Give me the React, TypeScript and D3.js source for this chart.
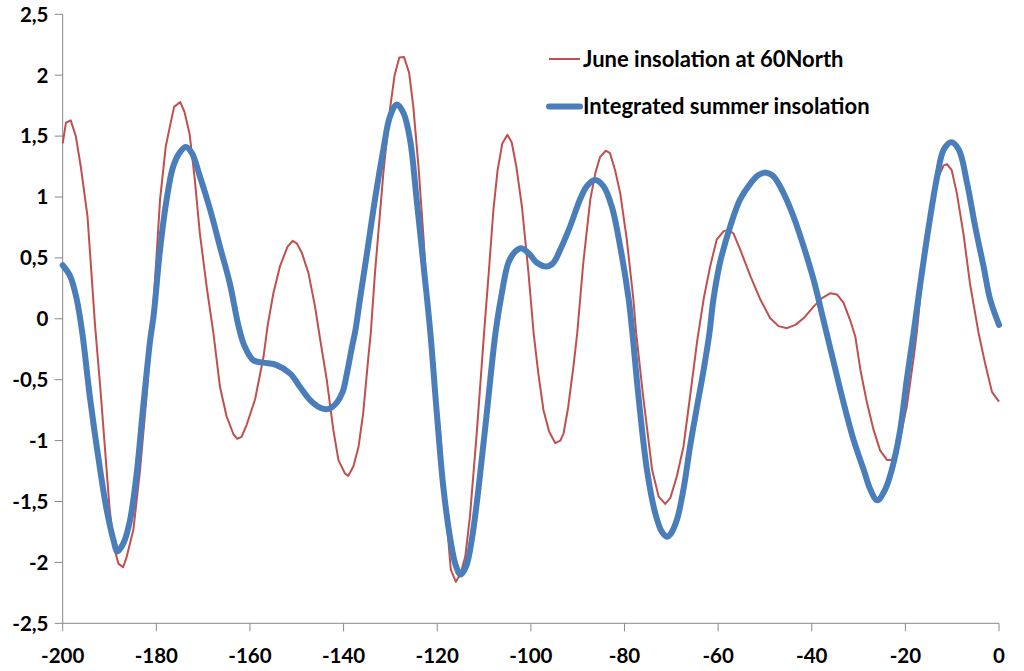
import React from "react";
import * as d3 from "d3";

// June insolation at 60North (thin red line)
const juneX = [-200,-199.3,-198.3,-197.2,-196.1,-194.7,-193.1,-192,-191,-190,-189,-188.1,-187.1,-186.3,-184.9,-183.5,-182,-180.8,-179.2,-178,-177.1,-176.2,-174.9,-174,-172.9,-171.8,-170.7,-169.2,-167.8,-166.4,-165,-163.5,-162.7,-161.8,-160.7,-158.9,-157.1,-156.2,-155,-153.6,-152,-150.9,-150,-148.9,-147.5,-146.1,-145,-143.6,-142.2,-141.1,-139.7,-139,-137.9,-136.8,-135.8,-134.7,-134.2,-133.3,-131.5,-130.1,-129.1,-128.1,-127.1,-126,-125.1,-124,-122.9,-121.7,-120.5,-119.4,-118.3,-117.1,-116,-115,-114,-113,-111.5,-110,-109,-108,-107.1,-106.1,-105,-104.1,-103.1,-101.9,-100.5,-99.4,-98.4,-97.3,-96.1,-94.8,-93.7,-93,-92,-90.9,-90.1,-88.8,-87.3,-86.2,-85.2,-84,-83.1,-82,-80.9,-79.5,-78.1,-77.5,-76,-74.1,-72.7,-71.3,-70.2,-68.8,-67.4,-66,-64.5,-63.1,-61.7,-60.3,-58.8,-57.8,-56.7,-55.3,-53.1,-51,-48.9,-47.1,-45.3,-43.5,-41.7,-39.6,-37.8,-36,-34.6,-33.2,-31.8,-30.7,-29.6,-28.2,-26.8,-25.4,-23.9,-22.9,-21.1,-19.7,-18.2,-17.5,-16.1,-14.3,-12.9,-11.8,-11.1,-10.1,-9,-7.6,-6.2,-4.4,-3,-1.5,0];
const juneY = [1.44,1.61,1.63,1.5,1.24,0.84,-0.05,-0.55,-1.05,-1.55,-1.88,-2.01,-2.04,-1.95,-1.73,-1.25,-0.6,0,0.98,1.41,1.58,1.74,1.78,1.7,1.52,1.15,0.7,0.25,-0.12,-0.56,-0.8,-0.95,-0.985,-0.97,-0.87,-0.66,-0.31,-0.05,0.21,0.43,0.59,0.64,0.62,0.54,0.375,0.1,-0.17,-0.5,-0.91,-1.16,-1.27,-1.29,-1.21,-1.05,-0.77,-0.31,-0.12,0.375,1.2,1.72,2.0,2.145,2.15,2.02,1.74,1.25,0.65,-0.1,-0.55,-0.91,-1.51,-2.06,-2.16,-2.09,-1.95,-1.62,-0.91,-0.12,0.375,0.895,1.22,1.44,1.51,1.45,1.25,0.92,0.375,-0.12,-0.45,-0.75,-0.925,-1.02,-1.0,-0.94,-0.72,-0.39,-0.12,0.46,0.98,1.2,1.33,1.38,1.36,1.22,1.03,0.65,0.16,-0.12,-0.64,-1.24,-1.46,-1.52,-1.47,-1.29,-1.05,-0.64,-0.19,0.16,0.43,0.65,0.72,0.73,0.7,0.57,0.35,0.16,0.006,-0.06,-0.077,-0.05,0.006,0.1,0.17,0.21,0.2,0.13,-0.01,-0.145,-0.42,-0.69,-0.91,-1.08,-1.16,-1.16,-0.97,-0.72,-0.31,-0.09,0.46,0.92,1.17,1.26,1.27,1.22,1.03,0.7,0.29,-0.11,-0.36,-0.6,-0.68];

// Integrated summer insolation (thick blue line)
const intX = [-200,-198.4,-197,-195.8,-194.2,-192,-190.6,-189.2,-188.3,-187,-185.6,-184.2,-182.8,-181.3,-180.6,-179.2,-177.8,-176.4,-174.9,-173.7,-172.4,-170.7,-168.5,-166.4,-164.3,-162.5,-161.2,-159.3,-157.1,-154.3,-151.4,-149.3,-147.2,-145,-143.2,-141.5,-140.2,-139.3,-138.2,-137.5,-136.5,-135,-133.3,-131.5,-130.1,-128.6,-127.2,-125.8,-124.4,-122.9,-121.5,-120.1,-118.7,-117.2,-116,-115,-113.8,-112.6,-111.2,-109.4,-107.5,-106.2,-104.8,-103.4,-102.1,-100.5,-98.7,-96.7,-95.2,-93.7,-91.6,-89.5,-88,-86.3,-84.5,-82.7,-80.9,-79.1,-78.3,-77,-75.2,-73.4,-72,-70.9,-70.2,-68.8,-67.4,-66,-64.5,-63.1,-61.9,-61,-59.6,-57.4,-55.3,-53.1,-51.4,-49.8,-48.2,-46,-43.9,-41.7,-39.6,-37.5,-35.3,-33.2,-31.1,-28.9,-27.5,-26,-24.3,-22.9,-21.1,-19.7,-18.3,-16.8,-15,-13.2,-11.8,-10.2,-8.6,-6.8,-5.1,-3.3,-1.9,0];
const intY = [0.44,0.35,0.16,-0.12,-0.64,-1.24,-1.57,-1.81,-1.91,-1.84,-1.65,-1.27,-0.72,-0.17,0.02,0.57,0.98,1.25,1.37,1.41,1.36,1.17,0.895,0.59,0.29,-0.05,-0.22,-0.34,-0.36,-0.38,-0.45,-0.56,-0.665,-0.73,-0.74,-0.69,-0.6,-0.45,-0.23,-0.1,0.16,0.54,0.98,1.39,1.66,1.76,1.69,1.47,0.98,0.43,-0.1,-0.77,-1.38,-1.81,-2.03,-2.1,-2.03,-1.81,-1.4,-0.77,-0.1,0.21,0.46,0.55,0.58,0.54,0.46,0.43,0.46,0.57,0.76,0.98,1.09,1.14,1.09,0.92,0.59,0.16,-0.12,-0.64,-1.24,-1.6,-1.75,-1.79,-1.77,-1.65,-1.4,-1.05,-0.72,-0.42,-0.13,0.16,0.46,0.76,0.98,1.11,1.18,1.2,1.17,1.03,0.84,0.59,0.32,-0.01,-0.36,-0.69,-0.99,-1.24,-1.4,-1.49,-1.4,-1.24,-0.91,-0.5,-0.13,0.29,0.76,1.17,1.39,1.45,1.39,1.11,0.76,0.43,0.16,-0.05];

const xTicks = [-200,-180,-160,-140,-120,-100,-80,-60,-40,-20,0];
const yTicks = [-2.5,-2,-1.5,-1,-0.5,0,0.5,1,1.5,2,2.5];
const seriesNames = ["June insolation at 60North", "Integrated summer insolation"];

const W = 1024, H = 671;
const left = 62.7, right = 999, top = 14.3, bottom = 623.3;

export default function App() {
  const x = d3.scaleLinear().domain([-200, 0]).range([left, right]);
  const y = d3.scaleLinear().domain([-2.5, 2.5]).range([bottom, top]);
  const june = juneX.map((v, i) => [v, juneY[i]] as [number, number]);
  const integ = intX.map((v, i) => [v, intY[i]] as [number, number]);
  const lineLin = d3.line<[number, number]>().x(d => x(d[0])).y(d => y(d[1]));
  const lineSmooth = d3.line<[number, number]>().x(d => x(d[0])).y(d => y(d[1])).curve(d3.curveCatmullRom.alpha(0.5));
  const fmt = (d: number) => String(d).replace(".", ",");
  const axisColor = "#888888";
  const red = "#C0504D";
  const blue = "#4A7EBB";
  return (
    <svg width={W} height={H} style={{ position: "absolute", left: 0, top: 0, background: "#fff" }}
      fontFamily="Lato, 'Open Sans', sans-serif">
      <rect x={0} y={0} width={W} height={H} fill="#fff" />
      {/* axes */}
      <line x1={left} x2={left} y1={top} y2={bottom} stroke={axisColor} strokeWidth={1} />
      <line x1={left} x2={right} y1={bottom} y2={bottom} stroke={axisColor} strokeWidth={1} />
      {yTicks.map(t => (
        <g key={"y" + t}>
          <line x1={left - 8} x2={left} y1={y(t)} y2={y(t)} stroke={axisColor} strokeWidth={1} />
          <text x={48.5} y={y(t)} dy="0.36em" textAnchor="end" fontWeight={700} fontSize={20.5} fill="#000">{fmt(t)}</text>
        </g>
      ))}
      {xTicks.map(t => (
        <g key={"x" + t}>
          <line x1={x(t)} x2={x(t)} y1={bottom} y2={bottom + 8} stroke={axisColor} strokeWidth={1} />
          <text x={x(t)} y={663} textAnchor="middle" fontWeight={700} fontSize={20.5} fill="#000">{fmt(t)}</text>
        </g>
      ))}
      {/* series */}
      <path d={lineLin(june) || ""} fill="none" stroke={red} strokeWidth={2} strokeLinejoin="round" />
      <path d={lineSmooth(integ) || ""} fill="none" stroke={blue} strokeWidth={6} strokeLinejoin="round" strokeLinecap="round" />
      {/* legend */}
      <line x1={549} x2={580} y1={59} y2={59} stroke={red} strokeWidth={2} />
      <text x={583} y={59} dy="0.35em" fontSize={22} fontWeight={700} fill="#000">{seriesNames[0]}</text>
      <line x1={549} x2={580} y1={106.5} y2={106.5} stroke={blue} strokeWidth={6} strokeLinecap="round" />
      <text x={583} y={106.5} dy="0.35em" fontSize={22} fontWeight={700} fill="#000">{seriesNames[1]}</text>
    </svg>
  );
}
